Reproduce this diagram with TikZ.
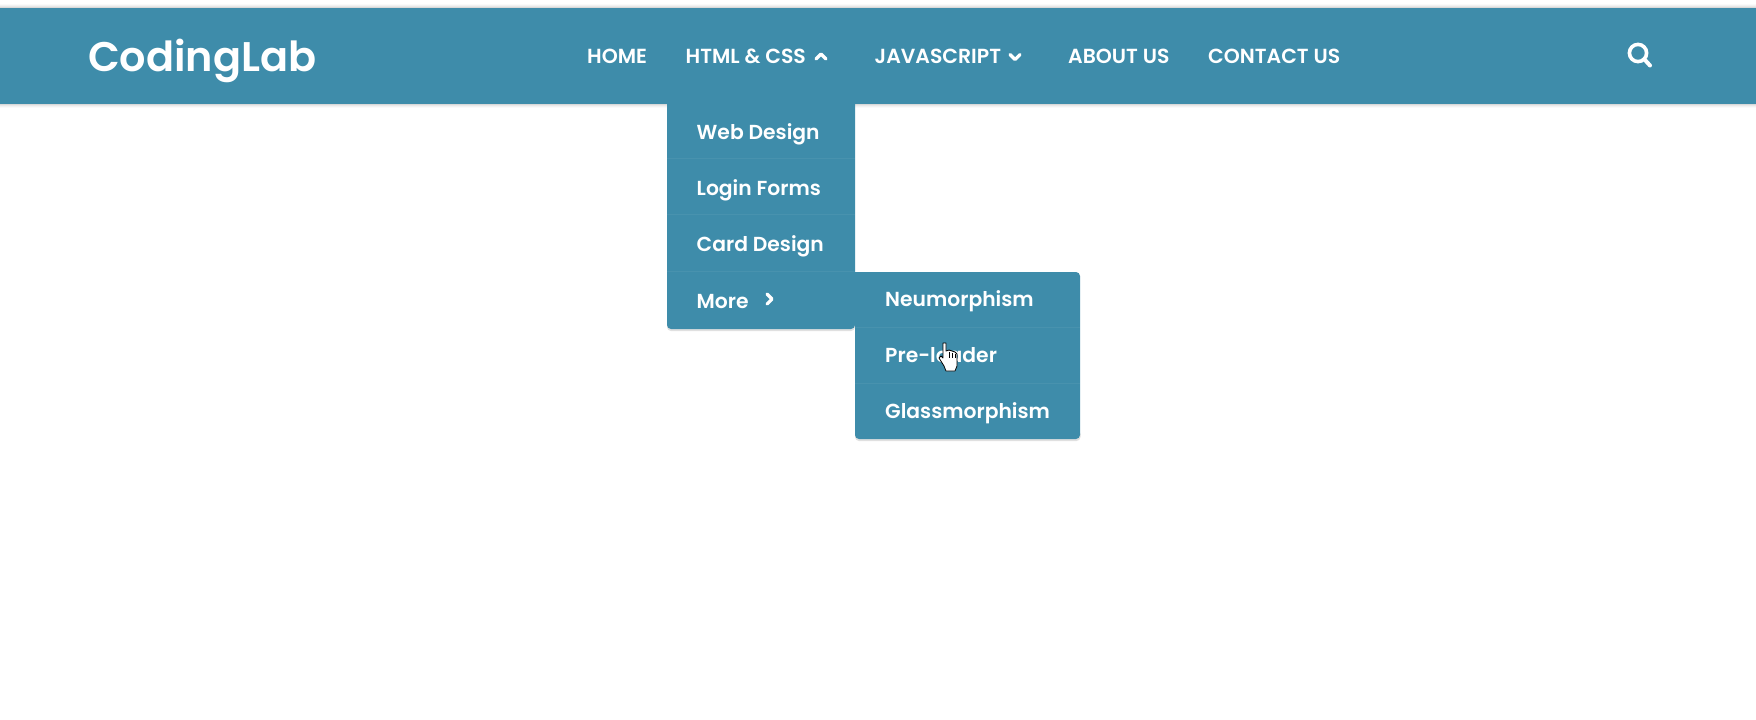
\documentclass[tikz,border=0pt]{standalone}
\usepackage{fontspec}
\setmainfont{Poppins SemiBold}
\definecolor{barc}{HTML}{3E8CAA}
\definecolor{divc}{HTML}{4892AE}
\tikzset{
    navitem/.style={anchor=base west,inner sep=0pt,text=white,font=\fontsize{20.4}{24}\selectfont},
    menuitem/.style={anchor=base west,inner sep=0pt,text=white,font=\fontsize{20.3}{26}\selectfont},
    chev/.style={white,line width=3.2pt,line cap=round,line join=round}
}

\begin{document}
\begin{tikzpicture}[x=1pt,y=-1pt]
            \useasboundingbox (0,0) rectangle (1756,720);
            \fill [white] (0,0) rectangle (1756,720);
            % shadow under the bar and the two menus
            \foreach \d/\o in {1/06,2/04,3/03,4/02} {
                \fill [black,opacity=0.\o] (0,8-\d) rectangle (1756,104+\d);
            }
            \fill [black!12,rounded corners=4pt] (855,331) -- (667,331) -- (667,320) -- (855,320) -- cycle;
            \fill [black!12,rounded corners=4pt] (1080.5,441) -- (855,441) -- (855,430) -- (1080.5,430) -- cycle;
            \fill [barc] (0,8) rectangle (1756,104);
            \fill [barc,rounded corners=4pt] (667,100) -- (667,329) -- (855,329) -- (855,100) -- cycle;
            \fill [barc,rounded corners=4pt] (850,272) -- (1080,272) -- (1080,439) -- (855,439) -- (855,300) -- cycle;
            \fill [barc] (850,272) rectangle (860,300);
            \foreach \y in {158,214,271} {
                \draw [divc] (667,\y) -- (855,\y);
            }
            \foreach \y in {327,383} {
                \draw [divc] (855,\y) -- (1080,\y);
            }

            \node [anchor=base west,inner sep=0pt,text=white,font=\fontsize{41.4}{48}\selectfont] (logo) at (88,71) {CodingLab};

            \node [navitem] (home) at (587,63) {HOME};
            \node [navitem] (html) at (685.5,63) {HTML \& CSS};
            \node [navitem] (js) at (874.5,63) {JAVASCRIPT};
            \node [navitem] (about) at (1068,63) {ABOUT US};
            \node [navitem] (contact) at (1208,63) {CONTACT US};

            \draw [chev] (816,59) -- (821,54) -- (826,59);
            \draw [chev] (1010,54.5) -- (1015,59.5) -- (1020,54.5);
            \draw [chev] (767,294) -- (772,299) -- (767,304);

            \draw [white,line width=3.6pt] (1638,53) circle (8.6);
            \draw [white,line width=4pt,line cap=round] (1645,60) -- (1650,65.5);

            \node [menuitem] (web) at (696.5,139.5) {Web Design};
            \node [menuitem] (login) at (696.5,195.5) {Login Forms};
            \node [menuitem] (card) at (696.5,251.5) {Card Design};
            \node [menuitem] (more) at (696.5,308.5) {More};
            \node [menuitem] (neu) at (885,306.5) {Neumorphism};
            \node [menuitem] (pre) at (885,362.5) {Pre-loader};
            \node [menuitem] (glass) at (885,418.5) {Glassmorphism};

            % hand cursor
            \draw [black,fill=white,line width=0.8pt,line join=round]
                (943,345) -- (943,343) -- (946,343) -- (946,351) -- (949,350) -- (952,351) -- (955,352) -- (957,354)
                -- (957,366) -- (955,371) -- (946,371) -- (944,366) -- (939,358) -- (941,356) -- (943,358) -- cycle;
            \draw [black,line width=0.6pt] (949,352) -- (949,358) (952,353) -- (952,358) (955,354) -- (955,358);
        \end{tikzpicture}
\end{document}
